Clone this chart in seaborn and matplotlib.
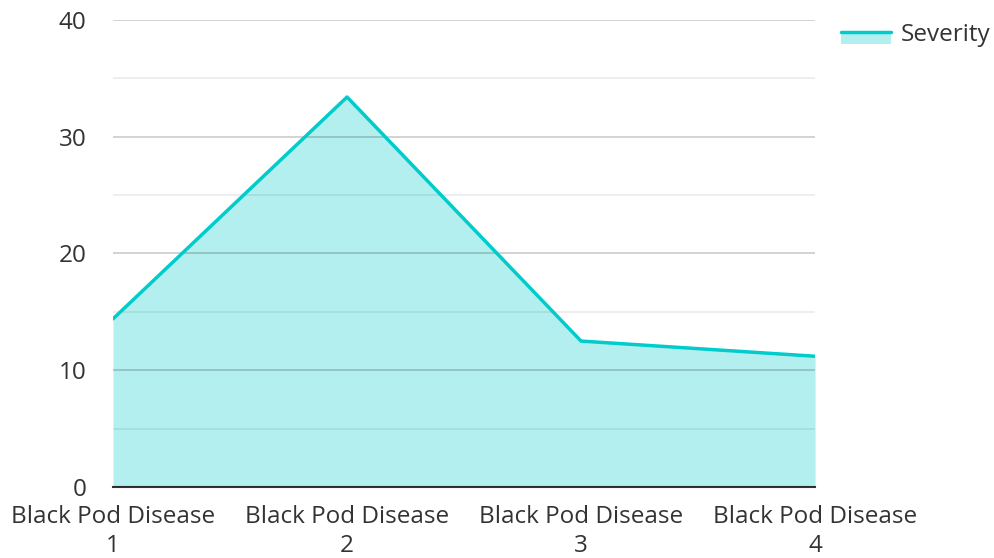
import matplotlib.pyplot as plt
import numpy as np
import pandas as pd
import seaborn as sns
from matplotlib.legend_handler import HandlerBase
from matplotlib.lines import Line2D
from matplotlib.patches import Rectangle

sns.set_style('white')
plt.rcParams['font.family'] = ['Open Sans', 'DejaVu Sans']

categories = ['Black Pod Disease\n1', 'Black Pod Disease\n2', 'Black Pod Disease\n3', 'Black Pod Disease\n4']
severity = [14.4, 33.4, 12.5, 11.2]

LINE_COLOR = '#00cccc'
FILL_COLOR = '#b2efee'
TEXT_COLOR = '#333333'


class AreaLineHandler(HandlerBase):
    """Legend key: a line on top of a filled strip, like an area series."""

    def create_artists(self, legend, orig_handle, xdescent, ydescent, width, height, fontsize, trans):
        y0 = -ydescent
        patch = Rectangle((-xdescent, y0 - 0.2 * height), width, 0.7 * height,
                          facecolor=FILL_COLOR, edgecolor='none', transform=trans)
        line = Line2D([-xdescent, -xdescent + width], [y0 + 0.5 * height] * 2,
                      color=LINE_COLOR, linewidth=2.5, transform=trans)
        return [patch, line]


df = pd.DataFrame({'pos': np.arange(len(categories)), 'severity': severity})

fig = plt.figure(figsize=(9.94, 5.58), dpi=100)
ax = fig.add_axes([0.1137, 0.1272, 0.7063, 0.8370])

ax.fill_between(df['pos'], df['severity'], 0, color=FILL_COLOR, linewidth=0, zorder=1)
sns.lineplot(data=df, x='pos', y='severity', ax=ax, color=LINE_COLOR, linewidth=2.5, zorder=4, legend=False)

ax.set_xlim(0, len(categories) - 1)
ax.set_ylim(0, 40)
ax.set_xticks(df['pos'])
ax.set_xticklabels(categories, linespacing=1.25)
ax.set_yticks([0, 10, 20, 30, 40])
ax.set_yticks([5, 15, 25, 35], minor=True)
ax.grid(axis='y', which='major', color='black', alpha=0.2, linewidth=1.2, zorder=3)
ax.grid(axis='y', which='minor', color='black', alpha=0.08, linewidth=1.2, zorder=3)
ax.set_axisbelow(False)
ax.set_xlabel('')
ax.set_ylabel('')
for side in ['top', 'right', 'left']:
    ax.spines[side].set_visible(False)
ax.spines['bottom'].set_color(TEXT_COLOR)
ax.spines['bottom'].set_linewidth(1.5)
ax.tick_params(axis='both', which='both', length=0, labelsize=17.5, colors=TEXT_COLOR)
ax.tick_params(axis='x', pad=13)
ax.tick_params(axis='y', pad=19)

series_key = Line2D([], [], color=LINE_COLOR)
fig.legend([series_key], ['Severity'], loc='upper left', bbox_to_anchor=(0.836, 0.977),
           frameon=False, fontsize=17.5, handlelength=2.05, handletextpad=0.42,
           borderaxespad=0, labelcolor=TEXT_COLOR,
           handler_map={series_key: AreaLineHandler()})

fig.savefig('out.png', dpi=100)
